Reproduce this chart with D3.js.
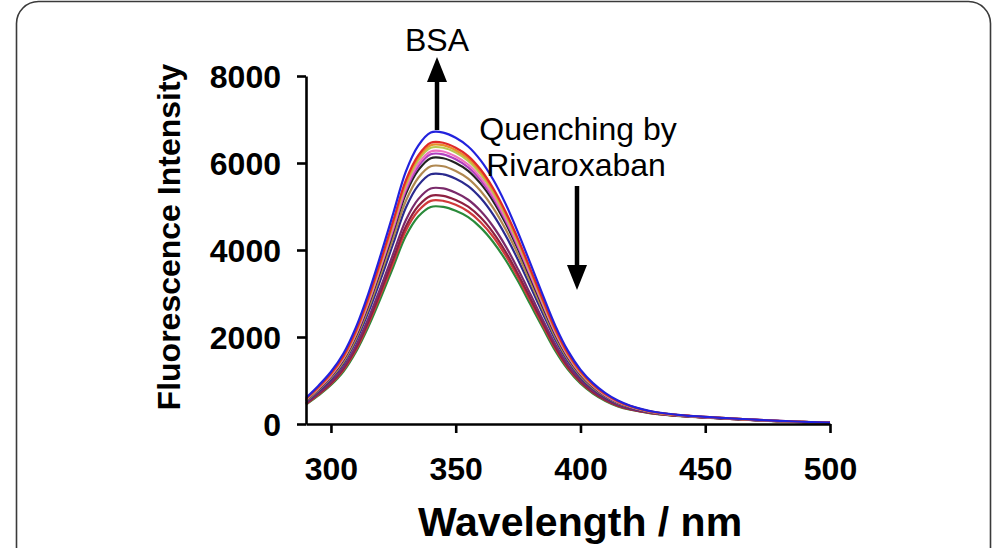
<!DOCTYPE html>
<html>
<head>
<meta charset="utf-8">
<script src="https://cdn.jsdelivr.net/npm/d3@7"></script>
<style>
  html, body { margin: 0; padding: 0; background: #fff; }
  svg { display: block; }
  text { font-family: "Liberation Sans", Arial, sans-serif; }
</style>
</head>
<body>
<svg id="chart" width="999" height="548"></svg>
<script>
// ---- data ----
const wavelengths = [290,295,300,305,310,315,320,325,330,335,340,345,350,355,360,365,370,375,380,385,390,395,400,405,410,415,420,425,430,440,450,465,480,500];

const sBlue    = [600,880,1200,1620,2220,3000,3900,4850,5800,6400,6700,6700,6580,6380,6060,5620,5060,4400,3680,2950,2250,1680,1250,940,710,540,420,335,275,205,165,115,70,30];
const sRed     = [580,850,1160,1560,2140,2900,3760,4680,5600,6175,6465,6465,6350,6160,5850,5420,4880,4250,3550,2850,2170,1620,1210,910,685,525,410,328,270,202,163,114,70,30];
const sOrange  = [575,840,1150,1550,2125,2870,3730,4640,5550,6125,6410,6410,6295,6105,5800,5380,4840,4210,3520,2825,2155,1610,1195,900,680,520,408,326,268,201,162,113,69,30];
const sLime    = [570,835,1140,1535,2105,2845,3700,4600,5500,6065,6350,6350,6240,6050,5745,5330,4795,4170,3490,2795,2135,1595,1185,890,675,515,405,325,267,200,161,112,68,29];
const sPink    = [560,825,1120,1515,2075,2805,3645,4535,5425,5985,6265,6265,6150,5965,5665,5255,4730,4115,3440,2760,2105,1570,1170,880,665,505,400,322,265,199,160,111,68,29];
const sMagenta = [555,815,1110,1500,2055,2775,3610,4485,5365,5920,6200,6200,6085,5900,5605,5200,4680,4070,3405,2730,2080,1555,1155,870,655,500,397,320,263,198,159,110,67,29];
const sBlack   = [545,805,1095,1480,2025,2735,3555,4425,5290,5835,6110,6110,6000,5820,5525,5125,4615,4015,3355,2690,2050,1530,1140,860,650,495,393,318,261,197,158,109,66,28];
const sTan     = [530,780,1060,1430,1960,2650,3450,4290,5125,5660,5925,5925,5815,5640,5355,4970,4475,3890,3255,2610,1990,1485,1105,830,630,480,385,313,257,194,156,108,65,28];
const sNavy    = [515,755,1030,1390,1905,2570,3340,4155,4970,5485,5740,5740,5640,5470,5195,4815,4335,3770,3155,2530,1930,1440,1070,805,610,465,375,306,253,191,154,106,64,27];
const sPlum    = [485,710,970,1310,1795,2425,3150,3920,4685,5170,5415,5415,5315,5155,4895,4540,4090,3555,2975,2385,1820,1355,1010,760,575,440,348,290,242,187,151,104,63,27];
const sMaroon  = [470,690,940,1270,1740,2350,3055,3800,4540,5010,5245,5245,5150,4995,4745,4400,3960,3445,2880,2310,1760,1315,980,735,555,425,338,284,238,185,150,103,62,26];
const sRed2    = [460,675,920,1240,1700,2300,2990,3715,4445,4900,5130,5130,5040,4885,4640,4305,3875,3370,2820,2260,1725,1285,960,720,545,415,333,281,236,184,149,102,62,26];
const sGreen   = [445,655,895,1205,1655,2235,2905,3615,4320,4770,4990,4990,4900,4755,4515,4185,3770,3280,2740,2200,1675,1250,930,700,530,405,328,278,234,182,148,101,61,26];

// drawn bottom-first, blue on top
const seriesValues = [sGreen, sRed2, sMaroon, sPlum, sNavy, sTan, sBlack, sMagenta, sPink, sLime, sOrange, sRed, sBlue];
const seriesColors = ["#2a8a3a", "#d03a3a", "#8e2040", "#7a2a6a", "#2a2a8e", "#b08850", "#222222", "#b040c0", "#f070c0", "#b8c850", "#e8902a", "#e02a2a", "#2222dd"];

const xTicks = [300, 350, 400, 450, 500];
const yTicks = [0, 2000, 4000, 6000, 8000];
const xDomain = [290, 500];
const yDomain = [0, 8000];

const xTitle = "Wavelength / nm";
const yTitle = "Fluorescence Intensity";
const noteUp = "BSA";
const noteDown1 = "Quenching by";
const noteDown2 = "Rivaroxaban";

// ---- drawing ----
const svg = d3.select("#chart");

// rounded frame
svg.append("rect")
  .attr("x", 16.5).attr("y", 1.5)
  .attr("width", 974).attr("height", 640)
  .attr("rx", 22).attr("ry", 22)
  .attr("fill", "none").attr("stroke", "#3a3a3a").attr("stroke-width", 1.6);

const x = d3.scaleLinear().domain(xDomain).range([306, 830]);
const y = d3.scaleLinear().domain(yDomain).range([424, 76]);

// curves
const line = d3.line()
  .x((d, i) => x(wavelengths[i]))
  .y(d => y(d))
  .curve(d3.curveCatmullRom.alpha(0.5));

svg.append("g").selectAll("path")
  .data(seriesValues)
  .join("path")
  .attr("d", d => line(d))
  .attr("fill", "none")
  .attr("stroke", (d, i) => seriesColors[i])
  .attr("stroke-width", 2.2)
  .attr("stroke-linejoin", "round");

// axes
const xAxis = svg.append("g")
  .attr("transform", `translate(0,${y(0)})`)
  .call(d3.axisBottom(x).tickValues(xTicks).tickSize(9).tickSizeOuter(0).tickPadding(24).tickFormat(d3.format("d")));
const yAxis = svg.append("g")
  .attr("transform", `translate(${x(290)},0)`)
  .call(d3.axisLeft(y).tickValues(yTicks).tickSize(9).tickSizeOuter(0).tickPadding(16).tickFormat(d3.format("d")));

[xAxis, yAxis].forEach(g => {
  g.select(".domain").attr("stroke", "#000").attr("stroke-width", 2.6);
  g.selectAll(".tick line").attr("stroke", "#000").attr("stroke-width", 2.6);
  g.selectAll(".tick text")
    .attr("fill", "#000")
    .style("font-family", "'Liberation Sans', Arial, sans-serif")
    .style("font-size", "32px")
    .style("font-weight", "bold");
});
yAxis.selectAll(".tick text").attr("dy", "0.36em");

// titles
svg.append("text")
  .attr("x", 580).attr("y", 536)
  .attr("text-anchor", "middle")
  .style("font-size", "41px").style("font-weight", "bold")
  .text(xTitle);

svg.append("text")
  .attr("transform", "translate(180,237) rotate(-90)")
  .attr("text-anchor", "middle")
  .style("font-size", "32px").style("font-weight", "bold")
  .text(yTitle);

// annotations
svg.append("text")
  .attr("x", 437).attr("y", 51)
  .attr("text-anchor", "middle")
  .style("font-size", "32px")
  .text(noteUp);

svg.append("text")
  .attr("x", 578).attr("y", 140)
  .attr("text-anchor", "middle")
  .style("font-size", "32px")
  .text(noteDown1);
svg.append("text")
  .attr("x", 576).attr("y", 176)
  .attr("text-anchor", "middle")
  .style("font-size", "32px")
  .text(noteDown2);

// arrows
function arrow(xc, yFrom, yTo) {
  const dir = yTo < yFrom ? -1 : 1;
  const headLen = 25, headHalf = 10;
  svg.append("line")
    .attr("x1", xc).attr("x2", xc)
    .attr("y1", yFrom).attr("y2", yTo - dir * headLen)
    .attr("stroke", "#000").attr("stroke-width", 4.5);
  svg.append("path")
    .attr("d", `M${xc},${yTo} L${xc - headHalf},${yTo - dir * headLen} L${xc + headHalf},${yTo - dir * headLen} Z`)
    .attr("fill", "#000");
}
arrow(437, 130, 57);
arrow(577, 186, 290);
</script>
</body>
</html>
